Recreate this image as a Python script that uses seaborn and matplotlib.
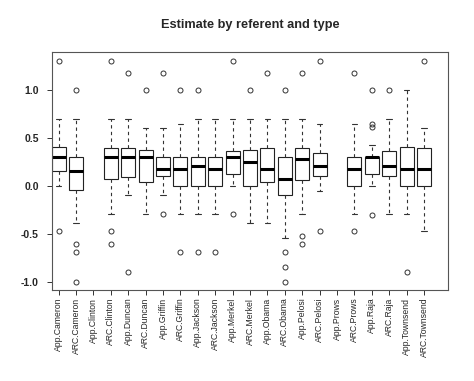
import numpy as np
import matplotlib
matplotlib.use("Agg")
import matplotlib.pyplot as plt
import seaborn as sns

# =========================
# Dados
# =========================
labels = ["App.Cameron", "ARC.Cameron", "App.Clinton", "ARC.Clinton",
          "App.Duncan", "ARC.Duncan", "App.Griffin", "ARC.Griffin",
          "App.Jackson", "ARC.Jackson", "App.Merkel", "ARC.Merkel",
          "App.Obama", "ARC.Obama", "App.Pelosi", "ARC.Pelosi",
          "App.Prows", "ARC.Prows", "App.Raja", "ARC.Raja",
          "App.Townsend", "ARC.Townsend"]

whislo = [0.00, -0.39, None, -0.295, -0.09, -0.295, -0.09, -0.295, -0.295, -0.295, 0.00, -0.39,
          -0.39, -0.54, -0.295, -0.05, None, -0.295, 0.00, -0.295, -0.295, -0.47]
q1 = [0.16, -0.045, None, 0.076, 0.09, 0.04, 0.10, 0.00, 0.00, 0.00, 0.13, 0.00,
      0.045, -0.09, 0.06, 0.10, None, 0.00, 0.125, 0.10, 0.00, 0.00]
med = [0.305, 0.16, None, 0.305, 0.305, 0.305, 0.18, 0.18, 0.21, 0.18, 0.305, 0.25,
       0.18, 0.076, 0.28, 0.21, None, 0.18, 0.305, 0.21, 0.18, 0.18]
q3 = [0.41, 0.305, None, 0.40, 0.40, 0.38, 0.305, 0.305, 0.305, 0.305, 0.37, 0.38,
      0.40, 0.305, 0.40, 0.34, None, 0.305, 0.305, 0.37, 0.41, 0.40]
whishi = [0.70, 0.70, None, 0.70, 0.70, 0.60, 0.60, 0.65, 0.70, 0.70, 0.70, 0.70,
          0.70, 0.70, 0.70, 0.65, None, 0.65, 0.43, 0.70, 1.00, 0.60]
fliers = [[1.30, -0.47], [1.00, -0.60, -0.69, -1.00], [], [1.30, -0.47, -0.60],
          [1.18, -0.90], [1.00], [1.18, -0.295], [1.00, -0.69],
          [1.00, -0.69], [-0.69], [1.30, -0.295], [1.00],
          [1.18], [1.00, -0.69, -0.84, -1.00], [1.18, -0.52, -0.60], [1.30, -0.47],
          [], [1.18, -0.47], [1.00, 0.65, 0.61, -0.30], [1.00],
          [-0.90], [1.30]]

# =========================
# Estilo
# =========================
sns.set_style("ticks")
plt.rcParams["font.family"] = ["Liberation Sans", "DejaVu Sans"]

fig = plt.figure(figsize=(4.74, 3.81), dpi=100)
ax = fig.add_axes([52 / 474, 1 - 290 / 381, 396 / 474, 238 / 381])

stats = []
posicoes = []
for i, nome in enumerate(labels):
    if med[i] is None:
        continue
    stats.append({"whislo": whislo[i], "q1": q1[i], "med": med[i], "q3": q3[i],
                  "whishi": whishi[i], "fliers": fliers[i], "label": nome})
    posicoes.append(i + 1)

ax.bxp(stats, positions=posicoes, widths=0.8, showfliers=True, patch_artist=True,
       boxprops=dict(facecolor="white", edgecolor="#222222", linewidth=0.8),
       medianprops=dict(color="black", linewidth=2.2, solid_capstyle="butt"),
       whiskerprops=dict(color="#333333", linewidth=0.8, linestyle=(0, (3, 3))),
       capprops=dict(color="#333333", linewidth=0.8),
       capwidths=0.32,
       flierprops=dict(marker="o", markersize=3.6, markerfacecolor="none",
                       markeredgecolor="#333333", markeredgewidth=0.7))

ax.set_xlim(0.62, 23.38)
ax.set_ylim(-1.083, 1.396)
ax.set_xticks(range(1, len(labels) + 1))
ax.set_xticklabels(labels, rotation=90, fontsize=6.2)
ax.set_yticks([-1.0, -0.5, 0.0, 0.5, 1.0])
ax.set_yticklabels(["-1.0", "-0.5", "0.0", "0.5", "1.0"], fontsize=7.5, fontweight="bold")
ax.tick_params(axis="both", direction="out", length=3.5, width=0.7, color="#333333", pad=2)
ax.tick_params(axis="y", pad=6)

for lado in ["top", "right", "left", "bottom"]:
    ax.spines[lado].set_visible(True)
    ax.spines[lado].set_color("#555555")
    ax.spines[lado].set_linewidth(0.8)

fig.text(250 / 474, 1 - 25 / 381, "Estimate by referent and type", ha="center", va="center",
         fontsize=9.2, fontweight="bold")

fig.savefig("out.png", dpi=100)
plt.close(fig)
